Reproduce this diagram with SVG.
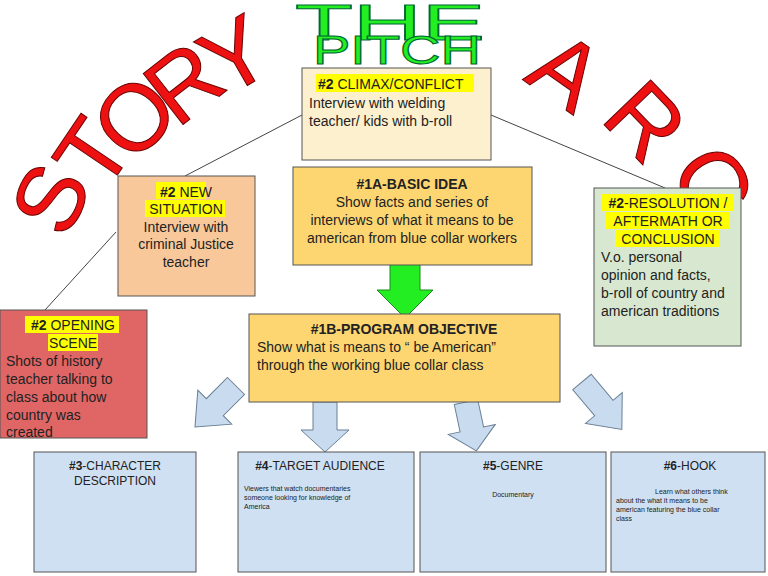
<svg xmlns="http://www.w3.org/2000/svg" width="768" height="576" viewBox="0 0 768 576">
<style>
.box{stroke:#555;stroke-width:1}
.t{font-family:"Liberation Sans",Arial,sans-serif;fill:#222}
.big{font-family:"Liberation Sans",Arial,sans-serif;font-size:94px;fill:#ee1111;stroke:#600;stroke-width:1;dominant-baseline:central;text-anchor:middle}
.gr{font-family:"Liberation Sans",Arial,sans-serif;fill:#22ee22;stroke:#063;stroke-width:1}
.hl{fill:#ffff00}
.ba{fill:#c9dcef;stroke:#6a7f95;stroke-width:1}
</style>
<rect width="768" height="576" fill="#fff"/>
<g id="title">
<text class="big" transform="translate(45,196) rotate(-65)" dy="6">S</text>
<text class="big" transform="translate(88,150) rotate(-56)" dy="6">T</text>
<text class="big" transform="translate(130,113) rotate(-47)" dy="6">O</text>
<text class="big" transform="translate(180,78) rotate(-38)" dy="6">R</text>
<text class="big" transform="translate(232,50) rotate(-30)" dy="6">Y</text>
<text class="big" transform="translate(570,66) rotate(35)" dy="6">A</text>
<text class="big" transform="translate(650,117) rotate(46)" dy="6">R</text>
<text class="big" transform="translate(718,180) rotate(58)" dy="6">C</text>
<text class="gr" x="390" y="40" font-size="50" text-anchor="middle" textLength="190" lengthAdjust="spacingAndGlyphs">THE</text>
<text class="gr" x="397" y="64" font-size="40" text-anchor="middle" textLength="168" lengthAdjust="spacingAndGlyphs">PITCH</text>
</g>
<g id="connectors" stroke="#444" stroke-width="1" fill="none">
<line x1="302" y1="115" x2="185" y2="176"/>
<line x1="491" y1="115" x2="665" y2="188"/>
<line x1="116" y1="232" x2="45" y2="310"/>
<polygon points="390,262 420,262 420,290 433,290 405,318 377,290 390,290" fill="#22ee22" stroke="#1a8a1a"/>
<polygon class="ba" points="-12,0 12,0 12,30 24,30 0,58 -24,30 -12,30" transform="translate(236,386) rotate(45)"/>
<polygon class="ba" points="-12,0 12,0 12,28 24,28 0,50 -24,28 -12,28" transform="translate(325,402)"/>
<polygon class="ba" points="-12,0 12,0 12,28 24,28 0,50 -24,28 -12,28" transform="translate(466,402) rotate(-12)"/>
<polygon class="ba" points="-12,0 12,0 12,34 24,34 0,62 -24,34 -12,34" transform="translate(582,382) rotate(-40)"/>
</g>
<g id="climax">
<rect class="box" x="302" y="68" width="189" height="92" fill="#fdf0cf"/>
<rect class="hl" x="316" y="74" width="158" height="18"/>
<text class="t" x="318" y="89" font-size="14"><tspan font-weight="bold">#2</tspan> CLIMAX/CONFLICT</text>
<text class="t" x="309" y="108" font-size="14">Interview with welding</text>
<text class="t" x="309" y="126" font-size="14">teacher/ kids with b-roll</text>
</g>
<g id="newsituation">
<rect class="box" x="118" y="176" width="137" height="120" fill="#f8c89a"/>
<rect class="hl" x="156" y="182" width="50" height="17"/>
<rect class="hl" x="145" y="200" width="80" height="17"/>
<text class="t" x="186" y="197" font-size="14" text-anchor="middle"><tspan font-weight="bold">#2</tspan> NEW</text>
<text class="t" x="186" y="214" font-size="14" text-anchor="middle">SITUATION</text>
<text class="t" x="186" y="232" font-size="14" text-anchor="middle">Interview with</text>
<text class="t" x="186" y="249" font-size="14" text-anchor="middle">criminal Justice</text>
<text class="t" x="186" y="267" font-size="14" text-anchor="middle">teacher</text>
</g>
<g id="basicidea">
<rect class="box" x="293" y="167" width="239" height="98" fill="#fdd671"/>
<text class="t" x="412" y="189" font-size="14" font-weight="bold" text-anchor="middle">#1A-BASIC IDEA</text>
<text class="t" x="412" y="207" font-size="14" text-anchor="middle">Show facts and series of</text>
<text class="t" x="412" y="225" font-size="14" text-anchor="middle">interviews of what it means to be</text>
<text class="t" x="412" y="243" font-size="14" text-anchor="middle">american from blue collar workers</text>
</g>
<g id="resolution">
<rect class="box" x="594" y="188" width="147" height="158" fill="#d8e8d0"/>
<rect class="hl" x="602" y="194" width="132" height="17"/>
<rect class="hl" x="605" y="212" width="124" height="17"/>
<rect class="hl" x="615" y="230" width="104" height="17"/>
<text class="t" x="668" y="208" font-size="14" text-anchor="middle"><tspan font-weight="bold">#2</tspan>-RESOLUTION /</text>
<text class="t" x="668" y="226" font-size="14" text-anchor="middle">AFTERMATH OR</text>
<text class="t" x="668" y="244" font-size="14" text-anchor="middle">CONCLUSION</text>
<text class="t" x="601" y="262" font-size="14">V.o. personal</text>
<text class="t" x="601" y="280" font-size="14">opinion and facts,</text>
<text class="t" x="601" y="298" font-size="14">b-roll of country and</text>
<text class="t" x="601" y="316" font-size="14">american traditions</text>
</g>
<g id="opening">
<rect class="box" x="0" y="310" width="147" height="128" fill="#e06666"/>
<rect class="hl" x="25" y="316" width="94" height="17"/>
<rect class="hl" x="48" y="334" width="50" height="17"/>
<text class="t" x="73" y="330" font-size="14" text-anchor="middle"><tspan font-weight="bold">#2</tspan> OPENING</text>
<text class="t" x="73" y="348" font-size="14" text-anchor="middle">SCENE</text>
<text class="t" x="6" y="366" font-size="14">Shots of history</text>
<text class="t" x="6" y="384" font-size="14">teacher talking to</text>
<text class="t" x="6" y="402" font-size="14">class about how</text>
<text class="t" x="6" y="420" font-size="14">country was</text>
<text class="t" x="6" y="437" font-size="14">created</text>
</g>
<g id="objective">
<rect class="box" x="249" y="314" width="311" height="88" fill="#fdd671"/>
<text class="t" x="404" y="334" font-size="14" font-weight="bold" text-anchor="middle">#1B-PROGRAM OBJECTIVE</text>
<text class="t" x="257" y="352" font-size="14">Show what is means to “ be American”</text>
<text class="t" x="257" y="370" font-size="14">through the working blue collar class</text>
</g>
<g id="character">
<rect class="box" x="34" y="452" width="162" height="120" fill="#cfe0f2"/>
<text class="t" x="115" y="470" font-size="12" text-anchor="middle"><tspan font-weight="bold">#3</tspan>-CHARACTER</text>
<text class="t" x="115" y="485" font-size="12" text-anchor="middle">DESCRIPTION</text>
</g>
<g id="audience">
<rect class="box" x="238" y="452" width="176" height="120" fill="#cfe0f2"/>
<text class="t" x="320" y="470" font-size="12" text-anchor="middle"><tspan font-weight="bold">#4</tspan>-TARGET AUDIENCE</text>
<text class="t" x="244" y="491" font-size="7">Viewers that watch documentaries</text>
<text class="t" x="244" y="500" font-size="7">someone looking for knowledge of</text>
<text class="t" x="244" y="509" font-size="7">America</text>
</g>
<g id="genre">
<rect class="box" x="420" y="452" width="186" height="120" fill="#cfe0f2"/>
<text class="t" x="513" y="470" font-size="12" text-anchor="middle"><tspan font-weight="bold">#5</tspan>-GENRE</text>
<text class="t" x="513" y="497" font-size="7" text-anchor="middle">Documentary</text>
</g>
<g id="hook">
<rect class="box" x="611" y="452" width="154" height="120" fill="#cfe0f2"/>
<text class="t" x="690" y="470" font-size="12" text-anchor="middle"><tspan font-weight="bold">#6</tspan>-HOOK</text>
<text class="t" x="655" y="494" font-size="7">Learn what others think</text>
<text class="t" x="616" y="503" font-size="7">about the what it means to be</text>
<text class="t" x="616" y="512" font-size="7">american featuring the blue collar</text>
<text class="t" x="616" y="521" font-size="7">class</text>
</g>
</svg>
